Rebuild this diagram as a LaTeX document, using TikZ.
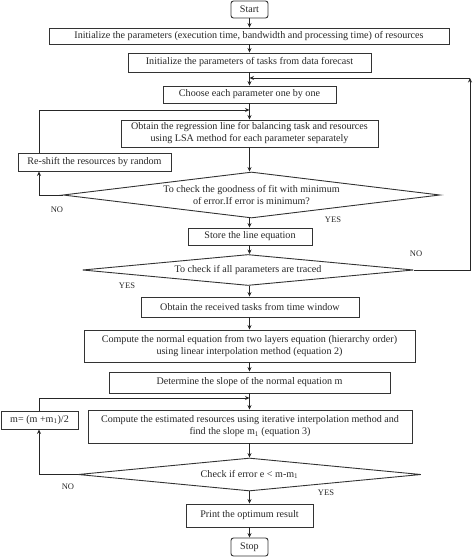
\documentclass[tikz,border=0pt]{standalone}
\usepackage{fontspec}
\setmainfont{Liberation Serif}
\usetikzlibrary{shapes.geometric,arrows.meta}
\begin{document}
\begin{tikzpicture}[x=1pt,y=-1pt,
  every node/.style={font=\fontsize{10.1}{12}\selectfont, text=black!85, inner sep=0pt},
  box/.style={draw=black!80, line width=0.9pt, rectangle, align=center},
  term/.style={box, rounded corners=2.5pt},
  dec/.style={draw=black!80, line width=0.9pt, diamond, align=center, inner sep=0pt},
  lab/.style={font=\fontsize{8.5}{9}\selectfont},
  arr/.style={draw=black!85, line width=0.9pt, -{Stealth[length=4.5pt,width=4pt]}},
  ln/.style={draw=black!85, line width=0.9pt}]
\useasboundingbox (0,0) rectangle (474,557);

\node[term, minimum width=37pt, minimum height=17pt] (start) at (249.5,9.5) {Start};
\node[box, minimum width=400pt, minimum height=16pt] (b1) at (249,36) {Initialize the parameters (execution time, bandwidth and processing time) of resources};
\node[box, minimum width=243pt, minimum height=19pt] (b2) at (249.5,62.5) {Initialize the parameters of tasks from data forecast};
\node[box, minimum width=173pt, minimum height=17pt] (b3) at (249.5,94.5) {Choose each parameter one by one};
\node[box, minimum width=257pt, minimum height=27pt] (b4) at (249.5,133.5) {Obtain the regression line for balancing task and resources\\using LSA method for each parameter separately};
\node[box, minimum width=153pt, minimum height=18pt] (rs) at (94.5,162) {Re-shift the resources by random};
\node[dec, aspect=8.2, minimum width=377pt, minimum height=46pt] (d1) at (251.5,195) {To check the goodness of fit with minimum\\of error.If error is minimum?};
\node[box, minimum width=124pt, minimum height=17pt] (st) at (250,236.5) {Store the line equation};
\node[dec, aspect=10.7, minimum width=331pt, minimum height=31pt] (d2) at (248,270) {To check if all parameters are traced};
\node[box, minimum width=218pt, minimum height=20pt] (b5) at (250,307) {Obtain the received tasks from time window};
\node[box, minimum width=331pt, minimum height=32pt] (b6) at (249.5,346) {Compute the normal equation from two layers equation (hierarchy order)\\using linear interpolation method (equation 2)};
\node[box, minimum width=281pt, minimum height=21pt] (b7) at (249.5,382.5) {Determine the slope of the normal equation m};
\node[box, minimum width=77pt, minimum height=18pt] (mb) at (39.5,420) {m= (m +m\textsubscript{1})/2};
\node[box, minimum width=324pt, minimum height=33pt] (b8) at (250,426.5) {Compute the estimated resources using iterative interpolation method and\\find the slope m\textsubscript{1} (equation 3)};
\node[dec, aspect=10.4, minimum width=343pt, minimum height=33pt] (d3) at (249.5,474.5) {Check if error e < m-m\textsubscript{1}};
\node[box, minimum width=127pt, minimum height=23pt] (pr) at (249.5,515.5) {Print the optimum result};
\node[term, minimum width=37pt, minimum height=18pt] (stop) at (249.5,547) {Stop};

\coordinate (cx) at (249.5,0);
\coordinate (lx) at (39,0);
\coordinate (cR) at (470,78);
\coordinate (j1) at (249.5,78);
\coordinate (j2) at (249.5,110);
\coordinate (j3) at (249.5,398);

% main spine
\draw[arr] (start.south -| cx) -- (b1.north -| cx);
\draw[arr] (b1.south -| cx) -- (b2.north -| cx);
\draw[arr] (b2.south -| cx) -- (b3.north -| cx);
\draw[arr] (b3.south -| cx) -- (b4.north -| cx);
\draw[arr] (b4.south -| cx) -- (d1.north -| cx);
\draw[arr] (d1.south -| cx) -- (st.north -| cx);
\draw[arr] (st.south -| cx) -- (d2.north -| cx);
\draw[arr] (d2.south -| cx) -- (b5.north -| cx);
\draw[arr] (b5.south -| cx) -- (b6.north -| cx);
\draw[arr] (b6.south -| cx) -- (b7.north -| cx);
\draw[arr] (b7.south -| cx) -- (b8.north -| cx);
\draw[arr] (b8.south -| cx) -- (d3.north -| cx);
\draw[arr] (d3.south -| cx) -- (pr.north -| cx);
\draw[arr] (pr.south -| cx) -- (stop.north -| cx);

% loop 1 (re-shift)
\draw[arr] (d1.west) -| (rs.south -| lx);
\draw[arr] (rs.north -| lx) |- (j2);
% loop 2 (all parameters)
\draw[arr] (d2.east) -| (cR);
\draw[arr] (cR) -- (j1);
% loop 3 (slope)
\draw[arr] (d3.west) -| (mb.south -| lx);
\draw[arr] (mb.north -| lx) |- (j3);

% labels
\node[lab] (no1) at (57,210) {NO};
\node[lab] (yes1) at (333,220) {YES};
\node[lab] (no2) at (416,254) {NO};
\node[lab] (yes2) at (127,286) {YES};
\node[lab] (no3) at (68,487) {NO};
\node[lab] (yes3) at (326,493) {YES};
\end{tikzpicture}
\end{document}
